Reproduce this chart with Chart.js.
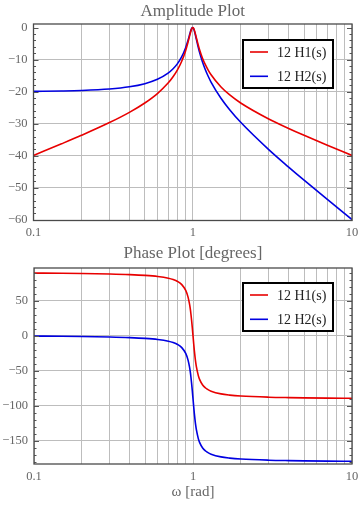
<!DOCTYPE html>
<html>
<head>
<meta charset="utf-8">
<script src="https://cdn.jsdelivr.net/npm/chart.js@4.4.1/dist/chart.umd.min.js"></script>
<style>
html, body { margin: 0; padding: 0; background: #fff; }
#wrap { position: relative; width: 360px; height: 505px; }
.box { position: absolute; left: 0; width: 360px; }
</style>
</head>
<body>
<div id="wrap">
  <div class="box" style="top:0;height:245px"><canvas id="amp"></canvas></div>
  <div class="box" style="top:245px;height:260px"><canvas id="phase"></canvas></div>
</div>
<script>
// frequencies
const omega = [0.1, 0.15, 0.2, 0.3, 0.4, 0.5, 0.6, 0.7, 0.75, 0.8,
  0.85, 0.9, 0.93, 0.95, 0.96, 0.97, 0.98, 0.99, 1, 1.01,
  1.02, 1.03, 1.04, 1.05, 1.08, 1.1, 1.15, 1.2, 1.25, 1.3,
  1.5, 1.7, 2, 3, 4, 5, 7, 10];

// amplitude (dB)
const ampH1 = [-39.91, -36.28, -33.63, -29.65, -26.46, -23.54, -20.60, -17.33, -15.44, -13.28,
  -10.67, -7.37, -4.93, -3.12, -2.22, -1.37, -0.66, -0.17, 0, -0.17,
  -0.63, -1.30, -2.08, -2.91, -5.28, -6.67, -9.48, -11.60, -13.27, -14.65,
  -18.48, -20.95, -23.54, -28.53, -31.48, -33.63, -36.73, -39.91];
const ampH2 = [-19.91, -19.80, -19.65, -19.19, -18.50, -17.52, -16.16, -14.23, -12.94, -11.34,
  -9.26, -6.45, -4.30, -2.68, -1.87, -1.11, -0.48, -0.09, 0, -0.26,
  -0.81, -1.56, -2.42, -3.33, -5.95, -7.50, -10.69, -13.18, -15.21, -16.93,
  -22.00, -25.56, -29.56, -38.07, -43.52, -47.61, -53.63, -59.91];

// phase (degrees)
const phaseH1 = [89.42, 89.12, 88.81, 88.11, 87.27, 86.19, 84.64, 82.19, 80.27, 77.47,
  72.97, 64.65, 55.46, 45.74, 39.24, 31.35, 22.0, 11.36, 0, -11.26,
  -21.61, -30.6, -38.12, -44.31, -57.0, -62.35, -70.37, -74.74, -77.47, -79.33,
  -83.16, -84.86, -86.19, -87.85, -88.47, -88.81, -89.16, -89.42];
const phaseH2 = [-0.58, -0.88, -1.19, -1.89, -2.73, -3.81, -5.36, -7.81, -9.73, -12.53,
  -17.03, -25.35, -34.54, -44.26, -50.76, -58.65, -68.0, -78.64, -90, -101.26,
  -111.61, -120.6, -128.12, -134.31, -147.0, -152.35, -160.37, -164.74, -167.47, -169.33,
  -173.16, -174.86, -176.19, -177.85, -178.47, -178.81, -179.16, -179.42];

const seriesLabels = ['12 H1(s)', '12 H2(s)'];
const xGrid = [0.1, 0.2, 0.3, 0.4, 0.5, 0.6, 0.7, 0.8, 0.9, 1, 2, 3, 4, 5, 6, 7, 8, 9, 10];
const xLabels = [0.1, 1, 10];
const ampTicks = [0, -10, -20, -30, -40, -50, -60];
const phaseTicks = [50, 0, -50, -100, -150];

const RED = 'rgb(232,0,0)';
const BLUE = 'rgb(0,0,225)';
const GRID = '#bdbdbd';
const TEXT = '#666';
const SERIF = '"Liberation Serif", "DejaVu Serif", serif';

function minorValues(lo, hi, step) {
  const out = [];
  for (let v = Math.ceil(lo / step) * step; v <= hi; v += step) out.push(v);
  return out;
}

// frame, inward ticks, plot title and boxed legend
const decoPlugin = {
  id: 'deco',
  afterDatasetsDraw(chart, args, opts) {
    const ctx = chart.ctx;
    const a = chart.chartArea;
    const y = chart.scales.y;
    ctx.save();
    ctx.strokeStyle = '#555';
    ctx.lineWidth = 1;
    ctx.beginPath();
    opts.minor.forEach(v => {
      const py = Math.round(y.getPixelForValue(v)) + 0.5;
      const len = opts.major.includes(v) ? 5 : 2.5;
      ctx.moveTo(a.left, py); ctx.lineTo(a.left + len, py);
      ctx.moveTo(a.right, py); ctx.lineTo(a.right - len, py);
    });
    ctx.stroke();

    ctx.strokeStyle = '#4a4a4a';
    ctx.lineWidth = 1.3;
    ctx.strokeRect(a.left, a.top, a.right - a.left, a.bottom - a.top);

    ctx.fillStyle = TEXT;
    ctx.font = '17px ' + SERIF;
    ctx.textAlign = 'center';
    ctx.textBaseline = 'alphabetic';
    ctx.fillText(opts.title, (a.left + a.right) / 2, a.top - opts.titleDy);

    const bw = 90, bh = 48;
    const lx = a.right - 19 - bw;
    const ly = a.top + opts.legendDy;
    ctx.fillStyle = '#fff';
    ctx.fillRect(lx, ly, bw, bh);
    ctx.strokeStyle = '#000';
    ctx.lineWidth = 2;
    ctx.strokeRect(lx, ly, bw, bh);
    ctx.font = '14px ' + SERIF;
    ctx.textAlign = 'left';
    ctx.textBaseline = 'middle';
    chart.data.datasets.forEach((ds, i) => {
      const ry = ly + 12 + i * 24.3;
      ctx.strokeStyle = ds.borderColor;
      ctx.lineWidth = 1.6;
      ctx.beginPath();
      ctx.moveTo(lx + 7, ry); ctx.lineTo(lx + 25, ry);
      ctx.stroke();
      ctx.fillStyle = '#222';
      ctx.fillText(ds.label, lx + 34, ry + 1);
    });
    ctx.restore();
  }
};

function fmt(v) {
  return v < 0 ? '\u2212' + Math.abs(v) : String(v);
}

function makeChart(id, cfg) {
  const datasets = cfg.series.map((vals, i) => ({
    label: seriesLabels[i],
    data: omega.map((w, k) => ({ x: w, y: vals[k] })),
    borderColor: i === 0 ? RED : BLUE,
    borderWidth: 1.6,
    pointRadius: 0,
    cubicInterpolationMode: 'monotone',
    fill: false
  }));
  return new Chart(document.getElementById(id), {
    type: 'line',
    data: { datasets: datasets },
    plugins: [decoPlugin],
    options: {
      responsive: true,
      maintainAspectRatio: false,
      animation: false,
      layout: { padding: { left: 0, right: 8, top: cfg.top, bottom: 0 } },
      plugins: {
        legend: { display: false },
        tooltip: { enabled: false },
        deco: {
          title: cfg.title,
          titleDy: cfg.titleDy,
          legendDy: cfg.legendDy,
          major: cfg.ticks,
          minor: minorValues(cfg.min, cfg.max, cfg.minorStep)
        }
      },
      scales: {
        x: {
          type: 'logarithmic',
          min: 0.1,
          max: 10,
          afterBuildTicks: s => { s.ticks = xGrid.map(v => ({ value: v })); },
          afterFit: s => {
            s.height = cfg.xHeight;
            s.paddingLeft = 0;
            s.paddingRight = 0;
          },
          ticks: {
            autoSkip: false,
            maxRotation: 0,
            padding: 5,
            color: TEXT,
            font: { family: SERIF, size: 12.5 },
            callback: v => xLabels.includes(v) ? String(v) : ''
          },
          grid: { color: GRID, drawTicks: false },
          border: { display: false },
          title: {
            display: !!cfg.xTitle,
            text: cfg.xTitle || '',
            color: TEXT,
            font: { family: SERIF, size: 15 },
            padding: { top: 4, bottom: 4 }
          }
        },
        y: {
          min: cfg.min,
          max: cfg.max,
          afterBuildTicks: s => { s.ticks = cfg.ticks.map(v => ({ value: v })); },
          afterFit: s => { s.width = cfg.yWidth; },
          ticks: {
            padding: 6,
            color: TEXT,
            font: { family: SERIF, size: 12.5 },
            callback: v => fmt(v)
          },
          grid: {
            drawTicks: false,
            color: c => {
              if (!c.tick) return GRID;
              const p = c.scale.getPixelForValue(c.tick.value);
              return (p - c.scale.top < 5 || c.scale.bottom - p < 5) ? 'rgba(0,0,0,0)' : GRID;
            }
          },
          border: { display: false }
        }
      }
    }
  });
}

makeChart('amp', {
  series: [ampH1, ampH2],
  title: 'Amplitude Plot',
  titleDy: 8.3,
  legendDy: 16,
  top: 24,
  min: -60.2,
  max: 1.1,
  ticks: ampTicks,
  minorStep: 2,
  yWidth: 33.5,
  xHeight: 24.5
});

makeChart('phase', {
  series: [phaseH1, phaseH2],
  title: 'Phase Plot [degrees]',
  titleDy: 9.7,
  legendDy: 15,
  top: 23,
  min: -183.3,
  max: 96.7,
  ticks: phaseTicks,
  minorStep: 10,
  yWidth: 34,
  xHeight: 41,
  xTitle: '\u03c9 [rad]'
});
</script>
</body>
</html>
